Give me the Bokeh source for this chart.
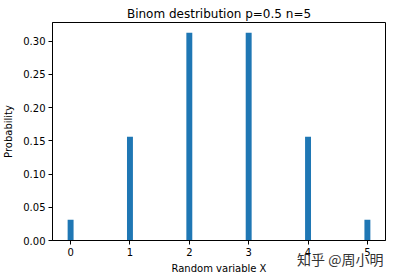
from bokeh.plotting import figure
from bokeh.models import Range1d, FixedTicker, NumeralTickFormatter, Title
from bokeh.embed import file_html
from bokeh.resources import INLINE

# Data
x_values = [0, 1, 2, 3, 4, 5]
probabilities = [0.03125, 0.15625, 0.3125, 0.3125, 0.15625, 0.03125]
x_ticks = [0, 1, 2, 3, 4, 5]
y_ticks = [0.00, 0.05, 0.10, 0.15, 0.20, 0.25, 0.30]
title_text = "Binom destribution p=0.5 n=5"
x_label = "Random variable X"
y_label = "Probability"
watermark = "知乎 @周小明"

FONT = "DejaVu Sans"

p = figure(
    width=395, height=278,
    output_backend="svg", toolbar_location=None,
    x_range=Range1d(-0.305, 5.305),
    y_range=Range1d(0, 0.328),
    min_border_left=50, min_border_right=10,
    min_border_top=22, min_border_bottom=38,
    title=title_text,
)

p.vbar(x=x_values, top=probabilities, width=0.1, color="#1f77b4", line_color=None)

p.title.align = "center"
p.title.text_font = FONT
p.title.text_font_size = "12px"
p.title.text_font_style = "normal"
p.title.text_color = "black"
p.title.standoff = 4

p.xgrid.visible = False
p.ygrid.visible = False
p.outline_line_color = "black"
p.outline_line_width = 1
p.outline_line_alpha = 1
p.background_fill_color = "white"
p.border_fill_color = "white"

for ax in (p.xaxis[0], p.yaxis[0]):
    ax.axis_line_color = "black"
    ax.axis_line_width = 1
    ax.major_tick_line_color = "black"
    ax.major_tick_in = 0
    ax.major_tick_out = 4
    ax.minor_tick_line_color = None
    ax.major_label_text_font = FONT
    ax.major_label_text_font_size = "10px"
    ax.major_label_text_color = "black"
    ax.axis_label_text_font = FONT
    ax.axis_label_text_font_size = "10px"
    ax.axis_label_text_font_style = "normal"
    ax.axis_label_text_color = "black"
    ax.major_label_standoff = 3

p.xaxis[0].ticker = FixedTicker(ticks=x_ticks)
p.yaxis[0].ticker = FixedTicker(ticks=y_ticks)
p.yaxis[0].formatter = NumeralTickFormatter(format="0.00")
p.xaxis[0].axis_label = x_label
p.yaxis[0].axis_label = y_label
p.xaxis[0].axis_label_standoff = 4
p.yaxis[0].axis_label_standoff = 6

wm = Title(text=watermark, align="right", vertical_align="top", standoff=-56,
           offset=2,
           text_font="Noto Sans CJK SC", text_font_size="14px",
           text_font_style="normal", text_color="#333333")
p.add_layout(wm, "below")

open("out.html", "w").write(file_html(p, INLINE))
